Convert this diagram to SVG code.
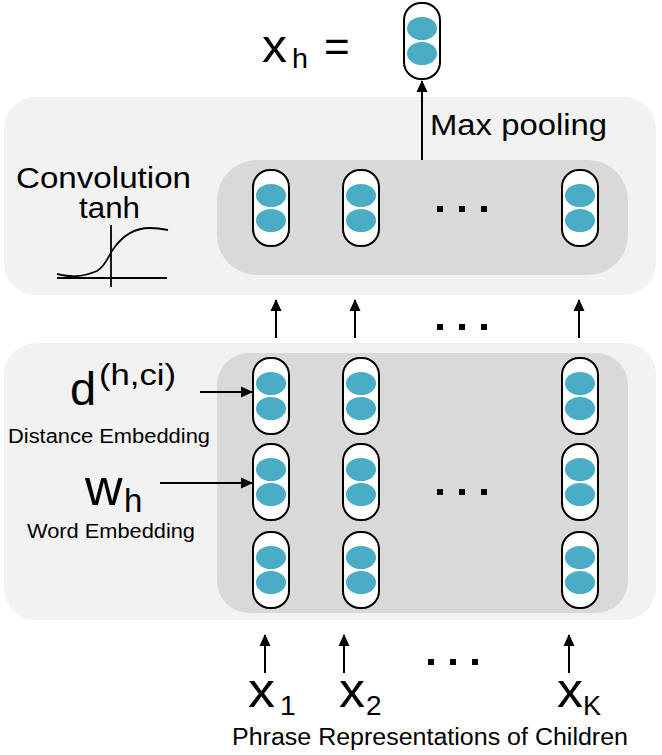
<svg xmlns="http://www.w3.org/2000/svg" width="662" height="755" viewBox="0 0 662 755">
<defs>
<marker id="ah" viewBox="0 0 12 12" refX="11" refY="6" markerWidth="12" markerHeight="12" markerUnits="userSpaceOnUse" orient="auto">
<path d="M0,0.5 L12,6 L0,11.5 z" fill="#000"/>
</marker>
<g id="vec">
<rect x="-18" y="-38" width="36" height="76" rx="17" ry="17" fill="#fff" stroke="#000" stroke-width="2"/>
<ellipse cx="0" cy="-12.5" rx="15" ry="11.5" fill="#4bacc6"/>
<ellipse cx="0" cy="12.5" rx="15" ry="11.5" fill="#4bacc6"/>
</g>
</defs>
<style>
text{font-family:"Liberation Sans",Arial,sans-serif;fill:#000}
.outer{fill:#f2f2f2}
.inner{fill:#d9d9d9}
.conn line{stroke:#000;stroke-width:2;fill:none}
.dot{fill:#000}
</style>
<rect width="662" height="755" fill="#fff"/>

<g id="top-panel">
<rect class="outer" x="4" y="97" width="652" height="198" rx="32"/>
<rect class="inner" x="217" y="160" width="411" height="115" rx="40"/>
</g>
<g id="bottom-panel">
<rect class="outer" x="4" y="343" width="652" height="277" rx="32"/>
<rect class="inner" x="217" y="353" width="411" height="260" rx="32"/>
</g>

<g id="xh-label">
<text x="262" y="62" font-size="47" textLength="25" lengthAdjust="spacingAndGlyphs">x</text>
<text x="292" y="68" font-size="28" textLength="16" lengthAdjust="spacingAndGlyphs">h</text>
<text x="324" y="62" font-size="44">=</text>
</g>
<g id="xh-vector"><use href="#vec" x="422" y="41"/></g>

<g id="conv-label">
<text x="16" y="188" font-size="29" textLength="175" lengthAdjust="spacingAndGlyphs">Convolution</text>
<text x="79" y="218" font-size="29" textLength="61" lengthAdjust="spacingAndGlyphs">tanh</text>
<g id="tanh-plot" stroke="#000" stroke-width="1.8" fill="none">
<line x1="57" y1="278" x2="167" y2="278"/>
<line x1="111" y1="225" x2="111" y2="287"/>
<path d="M57,274 C70,277 80,278 97,271 C106,266 108,256 114,248 C124,234 136,228 150,228 C158,228 163,229 168,230"/>
</g>
</g>
<g id="maxpool-label"><text x="430" y="135" font-size="29" textLength="177" lengthAdjust="spacingAndGlyphs">Max pooling</text></g>

<g id="conv-vectors">
<use href="#vec" x="271" y="208"/>
<use href="#vec" x="361" y="208"/>
<use href="#vec" x="580" y="208"/>
<rect class="dot" x="437" y="206" width="6" height="6"/>
<rect class="dot" x="459" y="206" width="6" height="6"/>
<rect class="dot" x="481" y="206" width="6" height="6"/>
</g>

<g id="embed-vectors">
<use href="#vec" x="271" y="396"/>
<use href="#vec" x="271" y="482"/>
<use href="#vec" x="271" y="570"/>
<use href="#vec" x="361" y="396"/>
<use href="#vec" x="361" y="482"/>
<use href="#vec" x="361" y="570"/>
<use href="#vec" x="580" y="396"/>
<use href="#vec" x="580" y="482"/>
<use href="#vec" x="580" y="570"/>
<rect class="dot" x="437" y="489" width="6" height="6"/>
<rect class="dot" x="459" y="489" width="6" height="6"/>
<rect class="dot" x="481" y="489" width="6" height="6"/>
</g>

<g id="dist-label">
<text x="70" y="405" font-size="47">d</text>
<text x="99" y="385" font-size="30" textLength="77" lengthAdjust="spacingAndGlyphs">(h,ci)</text>
<text x="8" y="443" font-size="20" textLength="202" lengthAdjust="spacingAndGlyphs">Distance Embedding</text>
</g>
<g id="word-label">
<text x="85" y="505" font-size="52">w</text>
<text x="124" y="512" font-size="33">h</text>
<text x="27" y="538" font-size="20" textLength="168" lengthAdjust="spacingAndGlyphs">Word Embedding</text>
</g>

<g id="mid-dots">
<rect class="dot" x="437" y="324" width="6" height="6"/>
<rect class="dot" x="459" y="324" width="6" height="6"/>
<rect class="dot" x="481" y="324" width="6" height="6"/>
</g>
<g id="bottom-dots">
<rect class="dot" x="428" y="659" width="6" height="6"/>
<rect class="dot" x="450" y="659" width="6" height="6"/>
<rect class="dot" x="472" y="659" width="6" height="6"/>
</g>

<g id="children-labels">
<text x="248" y="707" font-size="48" textLength="27" lengthAdjust="spacingAndGlyphs">x</text>
<text x="280" y="715" font-size="28">1</text>
<text x="339" y="707" font-size="48" textLength="26" lengthAdjust="spacingAndGlyphs">x</text>
<text x="366" y="715" font-size="28">2</text>
<text x="557" y="707" font-size="48" textLength="26" lengthAdjust="spacingAndGlyphs">x</text>
<text x="583" y="715" font-size="27">K</text>
<text x="232" y="745" font-size="23" textLength="396" lengthAdjust="spacingAndGlyphs">Phrase Representations of Children</text>
</g>

<g id="connectors" class="conn">
<line x1="422" y1="160" x2="422" y2="81" marker-end="url(#ah)"/>
<line x1="276" y1="338" x2="276" y2="300" marker-end="url(#ah)"/>
<line x1="355" y1="338" x2="355" y2="300" marker-end="url(#ah)"/>
<line x1="579" y1="338" x2="579" y2="300" marker-end="url(#ah)"/>
<line x1="200" y1="392" x2="252" y2="392" marker-end="url(#ah)"/>
<line x1="160" y1="483" x2="252" y2="483" marker-end="url(#ah)"/>
<line x1="265" y1="673" x2="265" y2="635" marker-end="url(#ah)"/>
<line x1="344" y1="673" x2="344" y2="635" marker-end="url(#ah)"/>
<line x1="569" y1="673" x2="569" y2="635" marker-end="url(#ah)"/>
</g>
</svg>
